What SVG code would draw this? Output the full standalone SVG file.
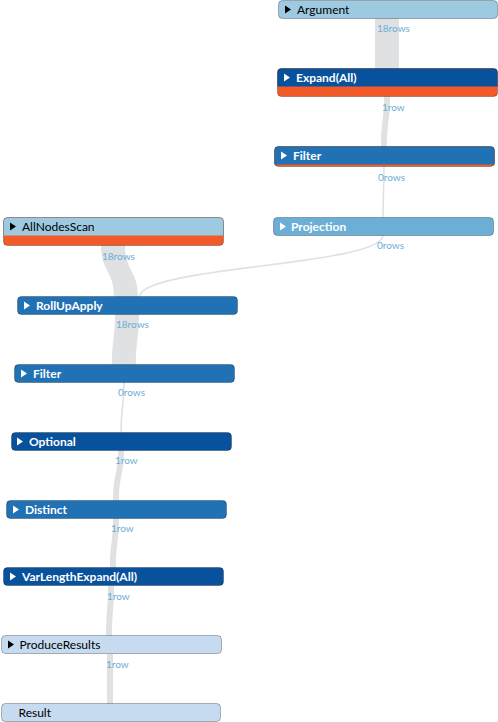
<svg xmlns="http://www.w3.org/2000/svg" width="498" height="722" viewBox="0 0 498 722">
<style>
.bg{fill:#ffffff}
.link{fill:#dfe1e3}
.thin{fill:none;stroke:#dfe1e3;stroke-width:1.6}
.rows{font-family:Lato,"Open Sans",sans-serif;font-size:10px;fill:#6baed6}
.frame{fill:none;stroke:#000;stroke-opacity:0.28;stroke-width:1}
.name{font-family:Lato,"Open Sans",sans-serif;font-size:12px}
.dk{fill:#ffffff;font-weight:bold}
.lt{fill:#000000}
.c1{fill:#9ecae1}
.c2{fill:#08519c}
.c3{fill:#2171b5}
.c4{fill:#6baed6}
.c5{fill:#c6dbef}
.cost{fill:#f25a29}
</style>
<rect class="bg" x="0" y="0" width="498" height="722"/>
<g id="connectors">
  <path class="link" d="M375,18 C375,43 375,43 375,69 L399,69 C399,43 399,43 399,18 Z"/>
  <path class="link" d="M384,96 C384,122 381,122 381,147 L387,147 C387,122 390,122 390,96 Z"/>
  <path class="thin" d="M384,166 C384,192 383,192 383,218"/>
  <path class="thin" d="M383,235 C383,266 139.5,266 139.5,297"/>
  <path class="link" d="M101,245 C101,271 114,271 114,297 L138,297 C138,271 125,271 125,245 Z"/>
  <path class="link" d="M115,314 C115,339 112,339 112,365 L136,365 C136,339 139,339 139,314 Z"/>
  <path class="thin" d="M124,382 C124,407 121,407 121,433"/>
  <path class="link" d="M118,450 C118,475 113,475 113,501 L119,501 C119,475 124,475 124,450 Z"/>
  <path class="link" d="M113,518 C113,543 110,543 110,568 L116,568 C116,543 119,543 119,518 Z"/>
  <path class="link" d="M108,586 C108,611 106,611 106,636 L112,636 C112,611 114,611 114,586 Z"/>
  <path class="link" d="M107,654 C107,679 107,679 107,704 L113,704 C113,679 113,679 113,654 Z"/>
  <text class="rows" x="377" y="32">18rows</text>
  <text class="rows" x="382" y="111">1row</text>
  <text class="rows" x="378" y="181">0rows</text>
  <text class="rows" x="377" y="249">0rows</text>
  <text class="rows" x="102" y="260">18rows</text>
  <text class="rows" x="116" y="328">18rows</text>
  <text class="rows" x="118" y="396">0rows</text>
  <text class="rows" x="115" y="464">1row</text>
  <text class="rows" x="111" y="532">1row</text>
  <text class="rows" x="107" y="600">1row</text>
  <text class="rows" x="106" y="668">1row</text>
</g>
<g id="n-argument">
  <rect class="c1" x="278.5" y="0.5" width="219" height="18" rx="4"/>
  <rect class="frame" x="278.5" y="0.5" width="219" height="18" rx="4"/>
  <path class="lt" d="M285,5.5 V13.5 L291,9.5 Z"/>
  <text class="name lt" x="297" y="13.5">Argument</text>
</g>
<g id="n-expand">
  <rect class="cost" x="277.5" y="68.5" width="220" height="28" rx="4"/>
  <path class="c2" d="M277.5,86.5 V72.5 Q277.5,68.5 281.5,68.5 H493.5 Q497.5,68.5 497.5,72.5 V86.5 Z"/>
  <rect class="frame" x="277.5" y="68.5" width="220" height="28" rx="4"/>
  <path fill="#ffffff" d="M284,73.5 V81.5 L290,77.5 Z"/>
  <text class="name dk" x="296" y="81.5">Expand(All)</text>
</g>
<g id="n-filter1">
  <rect class="cost" x="274.5" y="146.5" width="220" height="20" rx="4"/>
  <path class="c3" d="M274.5,164.5 V150.5 Q274.5,146.5 278.5,146.5 H490.5 Q494.5,146.5 494.5,150.5 V164.5 Z"/>
  <rect class="frame" x="274.5" y="146.5" width="220" height="20" rx="4"/>
  <path fill="#ffffff" d="M281,151.5 V159.5 L287,155.5 Z"/>
  <text class="name dk" x="293" y="160">Filter</text>
</g>
<g id="n-projection">
  <rect class="c4" x="273.5" y="217.5" width="220" height="18" rx="4"/>
  <rect class="frame" x="273.5" y="217.5" width="220" height="18" rx="4"/>
  <path fill="#ffffff" d="M280,222.5 V230.5 L286,226.5 Z"/>
  <text class="name dk" x="291" y="230.5">Projection</text>
</g>
<g id="n-allnodesscan">
  <rect class="cost" x="3.5" y="217.5" width="220" height="28" rx="4"/>
  <path class="c1" d="M3.5,235.5 V221.5 Q3.5,217.5 7.5,217.5 H219.5 Q223.5,217.5 223.5,221.5 V235.5 Z"/>
  <rect class="frame" x="3.5" y="217.5" width="220" height="28" rx="4"/>
  <path class="lt" d="M10,222.5 V230.5 L16,226.5 Z"/>
  <text class="name lt" x="22" y="230.5">AllNodesScan</text>
</g>
<g id="n-rollupapply">
  <rect class="c3" x="17.5" y="296.5" width="220" height="18" rx="4"/>
  <rect class="frame" x="17.5" y="296.5" width="220" height="18" rx="4"/>
  <path fill="#ffffff" d="M24,301.5 V309.5 L30,305.5 Z"/>
  <text class="name dk" x="36" y="309.5">RollUpApply</text>
</g>
<g id="n-filter2">
  <rect class="c3" x="14.5" y="364.5" width="220" height="18" rx="4"/>
  <rect class="frame" x="14.5" y="364.5" width="220" height="18" rx="4"/>
  <path fill="#ffffff" d="M21,369.5 V377.5 L27,373.5 Z"/>
  <text class="name dk" x="33" y="377.5">Filter</text>
</g>
<g id="n-optional">
  <rect class="c2" x="11.5" y="432.5" width="220" height="18" rx="4"/>
  <rect class="frame" x="11.5" y="432.5" width="220" height="18" rx="4"/>
  <path fill="#ffffff" d="M17,437.5 V445.5 L23,441.5 Z"/>
  <text class="name dk" x="29" y="445.5">Optional</text>
</g>
<g id="n-distinct">
  <rect class="c3" x="6.5" y="500.5" width="220" height="18" rx="4"/>
  <rect class="frame" x="6.5" y="500.5" width="220" height="18" rx="4"/>
  <path fill="#ffffff" d="M13,505.5 V513.5 L19,509.5 Z"/>
  <text class="name dk" x="25" y="513.5">Distinct</text>
</g>
<g id="n-varlengthexpand">
  <rect class="c2" x="3.5" y="567.5" width="220" height="18" rx="4"/>
  <rect class="frame" x="3.5" y="567.5" width="220" height="18" rx="4"/>
  <path fill="#ffffff" d="M10,572.5 V580.5 L16,576.5 Z"/>
  <text class="name dk" x="22" y="580.5">VarLengthExpand(All)</text>
</g>
<g id="n-produceresults">
  <rect class="c5" x="1.5" y="635.5" width="220" height="18" rx="4"/>
  <rect class="frame" x="1.5" y="635.5" width="220" height="18" rx="4"/>
  <path class="lt" d="M8,640.5 V648.5 L14,644.5 Z"/>
  <text class="name lt" x="19.5" y="648.5">ProduceResults</text>
</g>
<g id="n-result">
  <rect class="c5" x="1.5" y="703.5" width="219" height="18" rx="4"/>
  <rect class="frame" x="1.5" y="703.5" width="219" height="18" rx="4"/>
  <text class="name lt" x="18.5" y="716.5">Result</text>
</g>
</svg>
